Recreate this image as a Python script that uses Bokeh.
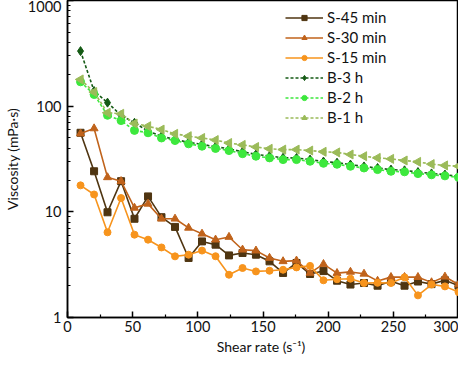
import numpy as np
from bokeh.plotting import figure
from bokeh.models import FixedTicker, Legend, LegendItem, Range1d
from bokeh.embed import file_html
from bokeh.resources import INLINE

shear_rate = [10, 20.4, 30.7, 41.1, 51.4, 61.8, 72.1, 82.5, 92.9, 103.2, 113.6, 123.9, 134.3, 144.6,
              155, 165.4, 175.7, 186.1, 196.4, 206.8, 217.1, 227.5, 237.9, 248.2, 258.6, 268.9,
              279.3, 289.6, 300]

s45 = [56, 24.2, 9.9, 19.5, 8.6, 14.0, 8.9, 7.2, 3.66, 5.25, 4.89, 3.87, 4.08, 3.93, 3.40, 2.64,
       3.28, 2.58, 2.75, 2.23, 2.05, 2.12, 2.0, 2.2, 2.0, 2.19, 2.07, 2.25, 2.0]
s30 = [55, 61.5, 21.2, 19.5, 10.9, 11.9, 8.6, 8.6, 7.05, 6.2, 5.45, 5.78, 4.38, 4.29, 3.66, 3.40,
       3.45, 2.64, 3.2, 2.63, 2.7, 2.59, 2.22, 2.41, 2.41, 2.41, 2.15, 2.43, 2.05]
s15 = [17.8, 14.6, 6.4, 13.5, 6.08, 5.45, 4.6, 3.79, 3.93, 4.3, 3.8, 2.54, 2.94, 2.73, 2.77, 2.83,
       2.98, 3.08, 2.25, 2.3, 2.33, 2.12, 2.13, 2.12, 2.4, 1.62, 2.05, 1.97, 1.74]
b3 = [332, 139, 108, 82, 69.6, 58, 52, 48.3, 45.6, 43.5, 41.3, 39.5, 37, 35, 33.7, 32.5, 32.3,
      31.2, 29.9, 29.2, 28.0, 26.9, 26.0, 25.1, 24.7, 23.8, 23.1, 22.5, 21.6]
b2 = [170, 129, 82, 73, 59, 56, 50, 47.3, 44, 41.8, 39.8, 38, 35.5, 33.6, 32.4, 31.2, 31.2, 30.1,
      28.8, 28.2, 27.0, 26.0, 25.1, 24.2, 23.9, 23.0, 22.4, 21.9, 21.2]
b1 = [179, 136, 86.6, 84.7, 68.5, 64.6, 60, 54.7, 52, 50, 47.8, 44.8, 43, 41.1, 39.5, 38.8, 38.8,
      38, 37, 36.5, 34.9, 33.6, 32.4, 31.7, 30.6, 29.7, 28.3, 27.5, 27]

x_ticks = [0, 50, 100, 150, 200, 250, 300]
x_minor = [25, 75, 125, 175, 225, 275]
y_ticks = [1, 10, 100, 1000]
y_tick_labels = ["1", "10", "100", "1000"]

FONT = "Lato"

p = figure(width=458, height=357, output_backend="svg", toolbar_location=None,
           y_axis_type="log", x_range=Range1d(0, 300), y_range=Range1d(1, 1000),
           min_border_left=0, min_border_right=0, min_border_top=0, min_border_bottom=0)
p.xgrid.visible = False
p.ygrid.visible = False
p.outline_line_color = "black"
p.outline_line_width = 1.5
p.background_fill_color = "white"
p.border_fill_color = "white"

series = [
    ("S-45 min", s45, "#4f3511", "square", 7, "solid", 0),
    ("S-30 min", s30, "#c0631b", "triangle", 8, "solid", 0),
    ("S-15 min", s15, "#f7941d", "circle", 7, "solid", 0),
    ("B-3 h", b3, "#145a14", "diamond", 9, "3 2", 0),
    ("B-2 h", b2, "#3de83d", "circle", 8, "3 2", 0),
    ("B-1 h", b1, "#9bbb59", "triangle", 9, "3 2", np.pi / 2),
]
items = []
for label, ys, color, marker, size, dash, ang in series:
    lr = p.line(shear_rate, ys, line_color=color, line_width=1.6, line_dash=dash)
    sr = p.scatter(shear_rate, ys, marker=marker, size=size, fill_color=color,
                   line_color=color, angle=ang)
    items.append(LegendItem(label=label, renderers=[lr, sr]))

legend = Legend(items=items, location=(218, 190), border_line_color=None,
                background_fill_alpha=0, label_text_font=FONT, label_text_font_size="15px",
                label_text_color="#111111", glyph_width=38, glyph_height=13, label_height=20,
                spacing=0, padding=0, margin=0, label_standoff=4)
p.add_layout(legend)

for ax in (p.xaxis[0], p.yaxis[0]):
    ax.axis_line_width = 1.5
    ax.axis_line_color = "black"
    ax.major_tick_in = 6
    ax.major_tick_out = 0
    ax.minor_tick_in = 3
    ax.minor_tick_out = 0
    ax.major_tick_line_width = 1.5
    ax.minor_tick_line_width = 1.2
    ax.major_label_text_font = FONT
    ax.major_label_text_font_size = "14.5px"
    ax.major_label_text_color = "#111111"
    ax.axis_label_text_font = FONT
    ax.axis_label_text_font_size = "14px"
    ax.axis_label_text_font_style = "normal"
    ax.axis_label_text_color = "#111111"

p.xaxis[0].ticker = FixedTicker(ticks=x_ticks, minor_ticks=x_minor)
p.xaxis[0].major_label_standoff = 3
p.xaxis[0].axis_label = "Shear rate  (s\u207b\u00b9)"
p.xaxis[0].axis_label_standoff = 3

y_minor = [m * d for d in (1, 10, 100) for m in range(2, 10)]
p.yaxis[0].ticker = FixedTicker(ticks=y_ticks, minor_ticks=y_minor)
p.yaxis[0].major_label_overrides = {t: l for t, l in zip(y_ticks, y_tick_labels)}
p.yaxis[0].major_label_standoff = 6
p.yaxis[0].axis_label = "Viscosity (mPa\u00b7s)"
p.yaxis[0].axis_label_standoff = 4

open("out.html", "w").write(file_html(p, INLINE))
